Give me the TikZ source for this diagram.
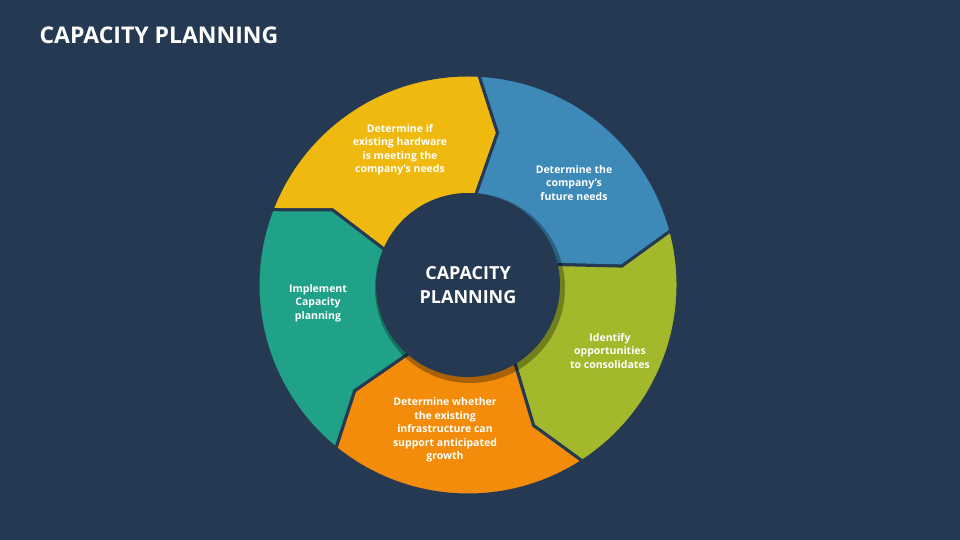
\documentclass[tikz,border=0pt]{standalone}
\usepackage{fontspec}
\setmainfont{Open Sans}
\definecolor{bg}{HTML}{253A52}
\definecolor{cyel}{HTML}{F0B90F}
\definecolor{cblu}{HTML}{3D89B8}
\definecolor{cgrn}{HTML}{A3B82A}
\definecolor{cora}{HTML}{F28C0A}
\definecolor{ctea}{HTML}{1FA287}
\begin{document}
\begin{tikzpicture}[x=1pt,y=1pt,
  lbl/.style={text=white,font=\fontsize{10.5}{13.5}\selectfont\bfseries,align=center},
  seg/.style={draw=bg,line width=3pt,line join=round}]
\fill[bg] (0,0) rectangle (960,540);
\useasboundingbox (0,0) rectangle (960,540);
\node[anchor=west,text=white,font=\fontsize{23}{26}\selectfont\bfseries] (title) at (36,505) {CAPACITY PLANNING};
\begin{scope}[shift={(468,255)}]
\foreach \s/\c in {159/cyel,87/cblu,15/cgrn,-57/cora,-129/ctea}{
  \pgfmathsetmacro{\e}{\s-72}
  \draw[seg,fill=\c] (\s:210) arc (\s:\e:210) -- (\e-8:155) -- (\e:80) arc (\e:\s:80) -- (\s-8:155) -- cycle;
}
\fill[black,opacity=0.3] (2,-3) circle (95);
\fill[bg] (0,0) circle (92);
\node[text=white,font=\fontsize{18}{24}\selectfont\bfseries,align=center] (center) at (0,0) {CAPACITY\\PLANNING};
\end{scope}
\node[lbl] (t1) at (400,390) {Determine if\\existing hardware\\is meeting the\\company's needs};
\node[lbl] (t2) at (574,357) {Determine the\\company's\\future needs};
\node[lbl] (t3) at (610,189) {Identify\\opportunities\\to consolidates};
\node[lbl] (t4) at (445,110) {Determine whether\\the existing\\infrastructure can\\support anticipated\\growth};
\node[lbl] (t5) at (318,237) {Implement\\Capacity\\planning};
\end{tikzpicture}
\end{document}
